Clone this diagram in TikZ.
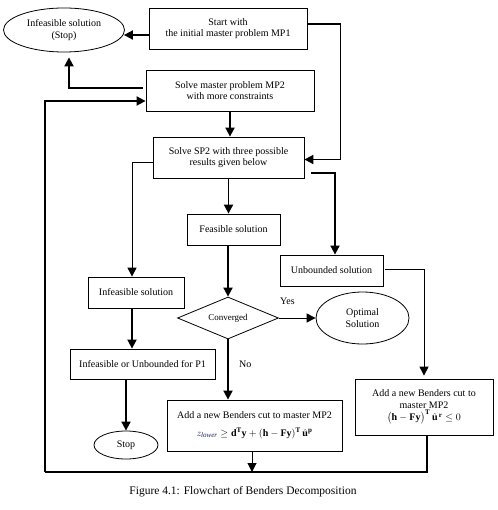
\documentclass[tikz,border=0pt]{standalone}
\usepackage{fontspec}
\setmainfont{Liberation Serif}
\usetikzlibrary{arrows.meta,shapes.geometric,calc}
\definecolor{navy}{RGB}{20,30,100}
\begin{document}
\begin{tikzpicture}[x=1pt,y=-1pt,
  every node/.style={font=\fontsize{10}{11.5}\selectfont, align=center, inner sep=0pt},
  box/.style={draw, line width=0.8pt, rectangle},
  oval/.style={draw, line width=0.8pt, ellipse},
  arr/.style={line width=1.8pt, -{Triangle[length=9pt,width=9pt]}},
  tharr/.style={line width=1pt, -{Triangle[length=9pt,width=9pt]}},
  thick line/.style={line width=1.8pt},
  thin line/.style={line width=1pt}]
\useasboundingbox (0,0) rectangle (497,510);

\node[oval, minimum width=121pt, minimum height=44pt] (inf1) at (64,30) {Infeasible solution\\(Stop)};
\node[box, minimum width=158pt, minimum height=41pt] (start) at (228,28.5) {Start with\\the initial master problem MP1};
\node[box, minimum width=168pt, minimum height=41pt] (mp2) at (230,90.5) {Solve master problem MP2\\with more constraints};
\node[box, minimum width=151pt, minimum height=41pt] (sp2) at (228.5,157.5) {Solve SP2 with three possible\\results given below};
\node[box, minimum width=93pt, minimum height=31pt] (feas) at (233.5,229.5) {Feasible solution};
\node[box, minimum width=103pt, minimum height=31pt] (unb) at (331.5,270.5) {Unbounded solution};
\node[box, minimum width=96pt, minimum height=31pt] (infs) at (136,292.5) {Infeasible solution};
\node[draw, line width=0.8pt, diamond, aspect=2.4, minimum width=101pt, minimum height=42pt] (conv) at (228,318) {\fontsize{9}{10}\selectfont Converged};
\node[oval, minimum width=93pt, minimum height=52pt] (opt) at (362.5,318) {Optimal\\Solution};
\node[box, minimum width=145pt, minimum height=30pt] (iup) at (142.5,364) {Infeasible or Unbounded for P1};
\node[oval, minimum width=64pt, minimum height=28pt] (stop) at (126,445) {Stop};
\node[box, minimum width=175pt, minimum height=51pt] (cutm) at (254.5,425.5) {Add a new Benders cut to master MP2\\[6pt]
  $\textcolor{navy}{z_{\mathit{lower}}} \ge \mathbf{d}^{\mathbf{T}}\mathbf{y} + (\mathbf{h}-\mathbf{F}\mathbf{y})^{\mathbf{T}}\,\hat{\mathbf{u}}^{\mathbf{p}}$};
\node[box, minimum width=138pt, minimum height=56pt] (cutr) at (424,407) {Add a new Benders cut to\\master MP2\\[1pt]
  $\bigl(\mathbf{h}-\mathbf{F}\mathbf{y}\bigr)^{\mathbf{T}}\,\hat{\mathbf{u}}^{\,\mathbf{r}} \le 0$};

\node[anchor=west] (yes) at (280,301) {Yes};
\node[anchor=west] (no) at (239,364) {No};
\node[font=\fontsize{11.5}{13}\selectfont] (cap) at (243,492) {Figure 4.1: Flowchart of Benders Decomposition};

\coordinate (bl) at (45,472);
\coordinate (br) at (427,472);
\coordinate (s1) at ($(start.west)+(0,6.5)$);
\coordinate (s2) at (s1 -| inf1.east);

% connectors
\draw[arr] (s1) -- ([xshift=-1pt]s2);
\draw[arr] ($(start.east)+(0,-4.5)$) -- ++(33,0) |- ($(sp2.east)+(0,2)$);
\draw[arr, shorten >=5pt] ($(mp2.west)+(-3,-2.5)$) -| ($(inf1.south)+(5,0)$);
\draw[arr] (mp2.south) -- (mp2.south |- sp2.north);
\draw[tharr] ($(sp2.west)+(0,5.5)$) -| ($(infs.north)+(-4,0)$);
\draw[arr] (sp2.south) -- (sp2.south |- feas.north);
\draw[arr] ($(sp2.east)+(7,15.5)$) -| ($(unb.north)+(3.5,0)$);
\draw[arr] (conv.north |- feas.south) -- (conv.north);
\draw[tharr] (conv.east) -- (opt.west);
\draw[arr] (conv.south) -- (conv.south |- cutm.north);
\draw[tharr, shorten >=3pt] ($(unb.east)+(2,-1.5)$) -| (cutr.north);
\coordinate (a1) at ($(infs.south)+(-4,0)$);
\draw[arr] (a1) -- (a1 |- iup.north);
\draw[arr] (stop.north |- iup.south) -- (stop.north);
\coordinate (a2) at ($(cutm.south)+(-2.5,0)$);
\draw[tharr] (a2) -- (a2 |- bl);
\draw[thick line] ($(cutr.south)+(3,0)$) -- (br) -- (bl);
\draw[arr] (bl) |- ($(mp2.west)+(0,10.5)$);
\end{tikzpicture}
\end{document}
